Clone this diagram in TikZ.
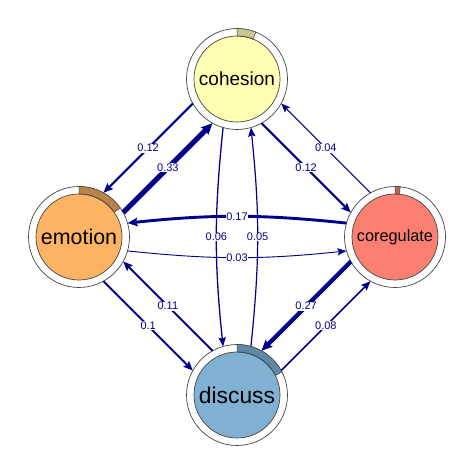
\documentclass[tikz,border=0pt]{standalone}
\usepackage{fontspec}
\setmainfont{Liberation Sans}
\usetikzlibrary{arrows.meta,calc}
\definecolor{edgecol}{RGB}{0,0,139}
\definecolor{ringcol}{RGB}{70,70,70}
\definecolor{cohfill}{HTML}{FFFFB3}
\definecolor{cohpie}{HTML}{C8C894}
\definecolor{emofill}{HTML}{FDB462}
\definecolor{emopie}{HTML}{B9834A}
\definecolor{corfill}{HTML}{FB8072}
\definecolor{corpie}{HTML}{B8635A}
\definecolor{disfill}{HTML}{80B1D3}
\definecolor{dispie}{HTML}{5F87A6}
\tikzset{
  qouter/.style={circle, minimum size=101pt, inner sep=0pt, outer sep=0pt, fill=white, draw=ringcol, line width=0.7pt},
  qedge/.style={draw=edgecol, -{Stealth[length=8.5pt 0.5, width=6.5pt 0.7, inset=1.5pt]}},
  qlbl/.style={fill=white, text=edgecol, inner sep=0.6pt, font=\fontsize{11}{11}\selectfont},
  qtext/.style={inner sep=0pt, text=black}
}
\newcommand{\qgnode}[8]{%
  \node[qouter] (#1) at (#2,#3) {};
  \fill[#4] (#1.center) circle[radius=43pt];
  \draw[fill=#5, draw=ringcol, line width=0.5pt] (#1.center) ++(90:43pt) -- ++(90:7.5pt)
    arc[start angle=90, end angle=#6, radius=50.5pt] -- ++(#6:-7.5pt)
    arc[start angle=#6, end angle=90, radius=43pt] -- cycle;
  \draw[ringcol, line width=0.7pt] (#1.center) circle[radius=43pt];
  \node[qtext, font=\fontsize{#7}{#7}\selectfont] (#1-t) at (#1.center) {#8};
}
\begin{document}
\begin{tikzpicture}[x=1pt, y=1pt]
\useasboundingbox (0,0) rectangle (474,474);
\fill[white] (0,0) rectangle (474,474);
\qgnode{coh}{237}{395}{cohfill}{cohpie}{68}{19}{cohesion}
\qgnode{emo}{79}{237}{emofill}{emopie}{35}{21.4}{emotion}
\qgnode{cor}{395}{237}{corfill}{corpie}{84}{16.3}{coregulate}
\qgnode{dis}{237}{79}{disfill}{dispie}{27}{22.8}{discuss}
% diagonal edges
\draw[qedge, line width=2.2pt] (coh.209) -- node[qlbl] (l1) {0.12} (emo.61);
\draw[qedge, line width=5.1pt] (emo.29) -- node[qlbl] (l2) {0.33} (coh.241);
\draw[qedge, line width=2.2pt] (coh.299) -- node[qlbl] (l3) {0.12} (cor.151);
\draw[qedge, line width=1.06pt] (cor.119) -- node[qlbl] (l4) {0.04} (coh.331);
\draw[qedge, line width=1.9pt] (emo.299) -- node[qlbl] (l5) {0.1} (dis.151);
\draw[qedge, line width=2.0pt] (dis.119) -- node[qlbl] (l6) {0.11} (emo.331);
\draw[qedge, line width=4.3pt] (cor.209) -- node[qlbl] (l7) {0.27} (dis.61);
\draw[qedge, line width=1.6pt] (dis.29) -- node[qlbl] (l8) {0.08} (cor.241);
% long curved edges
\draw[qedge, line width=2.9pt] (cor.164) to[bend right=6] node[qlbl] (l9) {0.17} (emo.16);
\draw[qedge, line width=0.92pt] (emo.-16) to[bend right=6] node[qlbl] (l10) {0.03} (cor.196);
\draw[qedge, line width=1.3pt] (coh.254) to[bend right=6] node[qlbl] (l11) {0.06} (dis.106);
\draw[qedge, line width=1.2pt] (dis.74) to[bend right=6] node[qlbl] (l12) {0.05} (coh.286);
\end{tikzpicture}
\end{document}
